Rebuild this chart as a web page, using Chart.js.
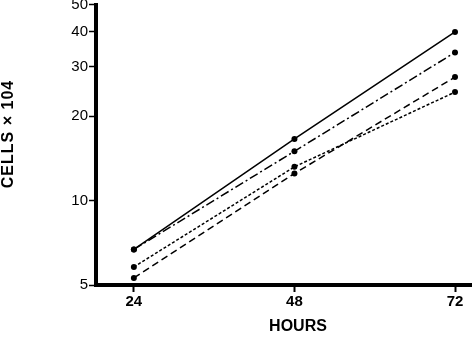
<!DOCTYPE html>
<html><head><meta charset="utf-8">
<script src="https://cdn.jsdelivr.net/npm/chart.js@4"></script>
<style>html,body{margin:0;padding:0;background:#fff}#w{width:474px;height:358px}</style>
</head><body><div id="w"><canvas id="c"></canvas></div>
<script>
const hours = [24, 48, 72];
const solidSeries = [6.7, 16.6, 40];
const dashDotSeries = [6.7, 15.0, 33.8];
const fineDashSeries = [5.8, 13.2, 24.4];
const longDashSeries = [5.3, 12.5, 27.6];
const yTickValues = [5, 10, 20, 30, 40, 50];
const xTickValues = [24, 48, 72];
const xTitle = 'HOURS';
const yTitle = 'CELLS × 104';

function ds(data, dash, label) {
  return {
    label, data: hours.map((h, i) => ({x: h, y: data[i]})),
    borderColor: '#000', backgroundColor: '#000', borderWidth: 1.5,
    borderDash: dash, pointRadius: 3, pointHoverRadius: 3,
    pointBackgroundColor: '#000', pointBorderColor: '#000', pointBorderWidth: 0,
    tension: 0, fill: false
  };
}

const titlePlugin = {
  id: 'axisTitles',
  afterDraw(chart) {
    const ctx = chart.ctx;
    ctx.save();
    ctx.fillStyle = '#000';
    ctx.font = 'bold 16px "Liberation Sans", Arial, sans-serif';
    ctx.textAlign = 'center';
    ctx.textBaseline = 'middle';
    ctx.fillText(xTitle, 298, 327);
    ctx.translate(9, 134);
    ctx.rotate(-Math.PI / 2);
    ctx.letterSpacing = '1px';
    ctx.fillText(yTitle, 0, 0);
    ctx.restore();
  }
};

new Chart(document.getElementById('c'), {
  type: 'line',
  data: { datasets: [
    ds(solidSeries, [], 'solid'),
    ds(dashDotSeries, [9, 3, 2, 3], 'dash-dot'),
    ds(fineDashSeries, [3, 2], 'fine dash'),
    ds(longDashSeries, [7, 4], 'long dash')
  ]},
  options: {
    responsive: true, maintainAspectRatio: false, animation: false,
    layout: { padding: { top: 4, right: 2, left: 0, bottom: 0 } },
    plugins: { legend: { display: false }, tooltip: { enabled: false } },
    scales: {
      x: {
        type: 'linear', min: 18.34, max: 74.39,
        afterBuildTicks: s => { s.ticks = xTickValues.map(v => ({value: v})); },
        afterFit: s => { s.height = 73; },
        border: { display: true, color: '#000', width: 4 },
        grid: { drawOnChartArea: false, drawTicks: true, tickLength: 7, tickColor: '#000', tickWidth: 2 },
        ticks: { color: '#000', padding: 1, font: { family: '"Liberation Sans", Arial, sans-serif', size: 15, weight: 'bold' },
          callback: v => String(v) }
      },
      y: {
        type: 'logarithmic', min: 5, max: 50,
        afterBuildTicks: s => { s.ticks = yTickValues.map(v => ({value: v})); },
        afterFit: s => { s.width = 96; },
        border: { display: true, color: '#000', width: 4 },
        grid: { drawOnChartArea: false, drawTicks: true, tickLength: 7, tickColor: '#000', tickWidth: 1.5 },
        ticks: { color: '#000', padding: 1, font: { family: '"Liberation Sans", Arial, sans-serif', size: 15, lineHeight: 0.5 },
          callback: v => String(v), autoSkip: false }
      }
    }
  },
  plugins: [titlePlugin]
});
</script></body></html>
